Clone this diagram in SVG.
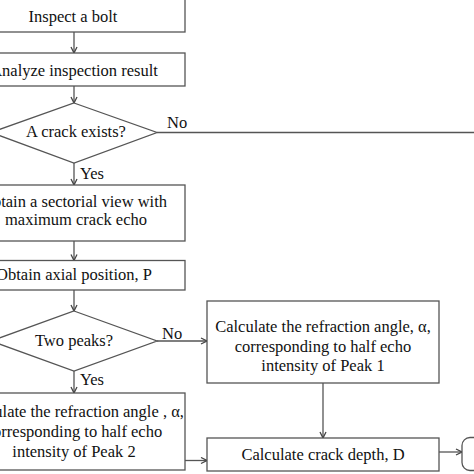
<svg xmlns="http://www.w3.org/2000/svg" width="474" height="474" viewBox="0 0 474 474">
<style>
.box{fill:#fff;stroke:#555;stroke-width:1.3}
.ln{fill:none;stroke:#555;stroke-width:1.3}
text{font-family:"Liberation Serif","Times New Roman",serif;font-size:16.5px;fill:#111;text-anchor:middle}
.lbl{text-anchor:start}
</style>
<defs>
<marker id="ah" markerWidth="8" markerHeight="8" refX="7" refY="4" orient="auto" markerUnits="userSpaceOnUse">
<path d="M1,1 L7,4 L1,7" fill="none" stroke="#444" stroke-width="1.3"/>
</marker>
</defs>
<rect width="474" height="474" fill="#fff"/>
<g id="connectors">
<line class="ln" x1="74" y1="32" x2="74" y2="53" marker-end="url(#ah)"/>
<line class="ln" x1="74" y1="86" x2="74" y2="103" marker-end="url(#ah)"/>
<line class="ln" x1="157" y1="132.5" x2="476" y2="132.5"/>
<line class="ln" x1="74" y1="163" x2="74" y2="185" marker-end="url(#ah)"/>
<line class="ln" x1="74" y1="241" x2="74" y2="260.5" marker-end="url(#ah)"/>
<line class="ln" x1="74" y1="290" x2="74" y2="311" marker-end="url(#ah)"/>
<line class="ln" x1="157" y1="341" x2="207" y2="341" marker-end="url(#ah)"/>
<line class="ln" x1="74" y1="371" x2="74" y2="393" marker-end="url(#ah)"/>
<line class="ln" x1="323" y1="383" x2="323" y2="438" marker-end="url(#ah)"/>
<line class="ln" x1="185" y1="460.5" x2="207" y2="460.5" marker-end="url(#ah)"/>
<line class="ln" x1="439" y1="452" x2="462" y2="452" marker-end="url(#ah)"/>
<text class="lbl" x="167" y="128">No</text>
<text class="lbl" x="80" y="179">Yes</text>
<text class="lbl" x="162" y="338.5">No</text>
<text class="lbl" x="80" y="385">Yes</text>
</g>
<g id="inspect">
<rect class="box" x="-37" y="-2" width="222" height="34"/>
<text x="73" y="22">Inspect a bolt</text>
</g>
<g id="analyze">
<rect class="box" x="-37" y="53" width="222" height="33"/>
<text x="74" y="76">Analyze inspection result</text>
</g>
<g id="crack-exists">
<polygon class="box" points="74,103 157,132.5 74,163 -9,132.5"/>
<text x="76" y="137">A crack exists?</text>
</g>
<g id="sectorial">
<rect class="box" x="-37" y="185" width="222" height="56"/>
<text x="74" y="207">Obtain a sectorial view with</text>
<text x="76" y="225">maximum crack echo</text>
</g>
<g id="axial">
<rect class="box" x="-37" y="260.5" width="222" height="29.5"/>
<text x="74" y="279.5">Obtain axial position, P</text>
</g>
<g id="two-peaks">
<polygon class="box" points="74,311 157,341 74,371 -9,341"/>
<text x="74" y="346">Two peaks?</text>
</g>
<g id="peak1">
<rect class="box" x="207" y="301" width="232" height="82"/>
<text x="323" y="331.5">Calculate the refraction angle, α,</text>
<text x="323" y="351.5">corresponding to half echo</text>
<text x="323" y="371">intensity of Peak 1</text>
</g>
<g id="peak2">
<rect class="box" x="-37" y="393" width="222" height="77"/>
<text x="74" y="417">Calculate the refraction angle , α,</text>
<text x="74" y="437">corresponding to half echo</text>
<text x="74" y="457">intensity of Peak 2</text>
</g>
<g id="depth">
<rect class="box" x="207" y="438" width="232" height="33"/>
<text x="323" y="459.5">Calculate crack depth, D</text>
</g>
<g id="end">
<rect class="box" x="462" y="437.5" width="40" height="33" rx="8" ry="8"/>
</g>
</svg>
